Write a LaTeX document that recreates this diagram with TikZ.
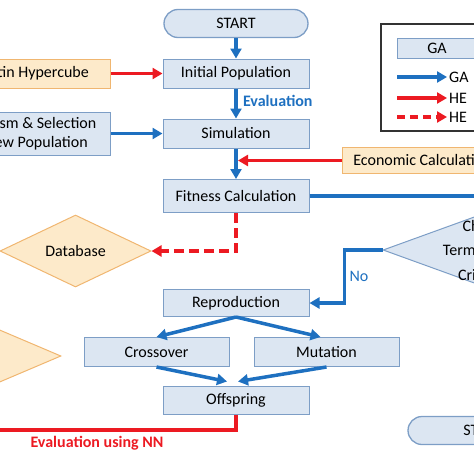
\documentclass[tikz,border=0pt]{standalone}
\usepackage{fontspec}
\setmainfont{Carlito}
\usetikzlibrary{shapes.geometric, arrows.meta}
\definecolor{gafill}{RGB}{220,230,242}
\definecolor{gaborder}{RGB}{125,158,198}
\definecolor{gablue}{RGB}{30,112,192}
\definecolor{hered}{RGB}{236,26,34}
\definecolor{hefill}{RGB}{253,234,202}
\definecolor{heborder}{RGB}{240,182,112}
\tikzstyle{startstop} = [
    rectangle,
    rounded corners=14pt,
    minimum width=144pt,
    minimum height=28pt,
    draw=gaborder,
    fill=gafill,
    line width=1.3pt
]
\tikzstyle{process} = [
    rectangle,
    minimum width=146pt,
    minimum height=29pt,
    inner sep=2pt,
    draw=gaborder,
    fill=gafill,
    line width=1pt
]
\tikzstyle{heprocess} = [
    process,
    draw=heborder,
    fill=hefill
]
\tikzstyle{decision} = [
    diamond,
    aspect=2,
    inner sep=0pt,
    draw=gaborder,
    fill=gafill,
    line width=1pt
]
\tikzstyle{hedecision} = [
    decision,
    draw=heborder,
    fill=hefill
]
\tikzstyle{galine} = [line width=3.5pt, gablue]
\tikzstyle{gaarrow} = [galine, -{Triangle[length=10pt,width=11pt]}]
\tikzstyle{heline} = [line width=3.5pt, hered]
\tikzstyle{hearrow} = [heline, -{Triangle[length=10pt,width=11pt]}]
\tikzstyle{hedash} = [hearrow, dash pattern=on 10pt off 5pt]
\tikzstyle{gatext} = [text=gablue]
\tikzstyle{hetext} = [text=hered, font=\fontsize{16}{19.5}\selectfont\bfseries]

\begin{document}
\begin{tikzpicture}[x=1pt, y=-1pt, font=\fontsize{16}{19.5}\selectfont]
\useasboundingbox (0,0) rectangle (474,474);
\clip (0,0) rectangle (474,474);

% main column
\node (start) [startstop] at (236,23.5) {START};
\node (init) [process] at (236,73.5) {Initial Population};
\node (sim) [process] at (236,133.5) {Simulation};
\node (fit) [process, minimum height=33pt] at (236,196) {Fitness Calculation};
\node (repro) [process, minimum height=27pt] at (236,303) {Reproduction};
\node (cross) [process, minimum width=145pt] at (156.5,352) {Crossover};
\node (mut) [process, minimum width=145pt] at (326.5,352) {Mutation};
\node (off) [process, minimum height=28pt] at (236,400) {Offspring};
\node (stop) [startstop] at (480,430.5) {STOP};

% side inputs
\node (latin) [heprocess, minimum width=148pt] at (36,73.5) {Latin Hypercube};
\node (elite) [process, minimum width=148pt, minimum height=43pt, align=center]
    at (36,133.5) {Elitism \& Selection\\New Population};
\node (econ) [heprocess, minimum width=161pt, minimum height=26pt] at (422.5,160.5)
    {Economic Calculation};
\node (db) [hedecision, minimum width=151pt, minimum height=72pt] at (75.5,251) {Database};
\node (check) [decision, minimum width=198pt, minimum height=72pt,
    label={[align=center]center:Check\\[5pt]Termination\\[5pt]Criteria}] at (482,250) {};
\node (store) [hedecision, minimum width=150pt, minimum height=64pt] at (-14,356) {};

% legend
\draw [line width=1.3pt, black!80] (381,24) rectangle (490,131);
\node (gakey) [process, minimum width=80pt, minimum height=20pt, inner sep=0pt] at (437,48) {GA};
\node (gakeytxt) [anchor=west, inner sep=2pt] at (447,77) {GA};
\node (hekeytxt) [anchor=west, inner sep=2pt] at (447,98) {HE};
\node (hedashtxt) [anchor=west, inner sep=2pt] at (447,117) {HE};
\coordinate (gakeyl) at (397,77);
\coordinate (hekeyl) at (397,98);
\coordinate (hedashl) at (397,117);
\draw [gaarrow] (gakeyl) -- (gakeytxt.west);
\draw [hearrow] (hekeyl) -- (hekeytxt.west);
\draw [hedash, dash pattern=on 8pt off 5pt] (hedashl) -- (hedashtxt.west);

% connectors
\coordinate (econjoin) at (238,160.5);
\coordinate (fitout) at (490,196);
\coordinate (nnout) at (-10,430);

\draw [gaarrow] (start) -- (init);
\draw [gaarrow] (init) -- node[pos=0.4, right=2pt, gatext, font=\fontsize{16}{19.5}\selectfont\bfseries] {Evaluation} (sim);
\draw [gaarrow] (sim) -- (fit);
\draw [hearrow] (latin) -- (init);
\draw [gaarrow] (elite) -- (sim);
\draw [hearrow] (econ) -- (econjoin);
\draw [galine] (fit) -- (fitout);
\draw [hedash] (fit.south) |- (db.east);
\draw [gaarrow] (check.west) -- ++(-38,0) |- node[pos=0.25, right, gatext] {No} (repro.east);
\draw [gaarrow] (repro.south) -- (cross.north);
\draw [gaarrow] (repro.south) -- ([xshift=-6pt]mut.north);
\draw [gaarrow] (cross.south) -- ([xshift=-9pt,yshift=4pt]off.north);
\draw [gaarrow] (mut.south) -- ([xshift=2pt,yshift=4pt]off.north);
\draw [heline] (off.south) |- (nnout);
\node (nnlabel) [hetext] at (97,443) {Evaluation using NN};

\end{tikzpicture}
\end{document}
